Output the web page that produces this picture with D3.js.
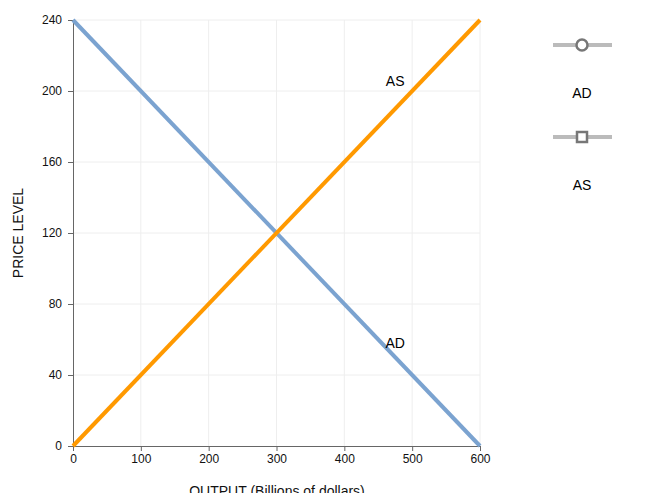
<!DOCTYPE html><html><head><script src="https://cdn.jsdelivr.net/npm/d3@7"></script>
<style>body{margin:0;background:#fff}text{font-family:Arial,"Liberation Sans",sans-serif}</style></head><body>
<svg id="c" width="648" height="493"></svg>
<script>
const xTicks=[0,100,200,300,400,500,600];
const yTicks=[0,40,80,120,160,200,240];
const adX=[0,600], adY=[240,0];
const asX=[0,600], asY=[0,240];
const svg=d3.select("#c");
const x=d3.scaleLinear().domain([0,600]).range([73,480]);
const y=d3.scaleLinear().domain([0,240]).range([446,20]);
const g=svg.append("g");
g.selectAll(".gx").data(xTicks.slice(1)).enter().append("line").attr("x1",d=>x(d)).attr("x2",d=>x(d)).attr("y1",20).attr("y2",446).attr("stroke","#eee");
g.selectAll(".gy").data(yTicks.slice(1)).enter().append("line").attr("y1",d=>y(d)).attr("y2",d=>y(d)).attr("x1",73).attr("x2",480).attr("stroke","#eee");
const xa=svg.append("g").attr("transform","translate(0,446)").call(d3.axisBottom(x).tickValues(xTicks).tickSize(5).tickSizeOuter(0));
const ya=svg.append("g").attr("transform","translate(73,0)").call(d3.axisLeft(y).tickValues(yTicks).tickSize(5).tickSizeOuter(0));
[xa,ya].forEach(a=>{a.selectAll("path,line").attr("stroke","#666");a.selectAll("text").attr("fill","#111").attr("font-size",12)});
ya.selectAll("text").attr("dx","-3");
const line=d3.line().x(d=>x(d[0])).y(d=>y(d[1]));
svg.append("path").attr("d",line(adX.map((v,i)=>[v,adY[i]]))).attr("stroke","#7ba3d0").attr("stroke-width",4).attr("fill","none");
svg.append("path").attr("d",line(asX.map((v,i)=>[v,asY[i]]))).attr("stroke","#ff9900").attr("stroke-width",4).attr("fill","none");
svg.append("text").attr("x",x(475)).attr("y",y(55)).attr("text-anchor","middle").attr("font-size",14).text("AD");
svg.append("text").attr("x",x(475)).attr("y",y(203)).attr("text-anchor","middle").attr("font-size",14).text("AS");
svg.append("text").attr("transform","translate(23,233) rotate(-90)").attr("text-anchor","middle").attr("font-size",14).attr("fill","#111").text("PRICE LEVEL");
svg.append("text").attr("x",277).attr("y",496).attr("text-anchor","middle").attr("font-size",14).attr("fill","#111").text("OUTPUT (Billions of dollars)");
const lg=svg.append("g");
[["AD",45,"circle"],["AS",137,"square"]].forEach(([n,yy,s])=>{
 lg.append("line").attr("x1",553).attr("x2",612).attr("y1",yy).attr("y2",yy).attr("stroke","#bbb").attr("stroke-width",4);
 if(s==="circle")lg.append("circle").attr("cx",582).attr("cy",yy).attr("r",5.5).attr("fill","#fff").attr("stroke","#777").attr("stroke-width",2.5);
 else lg.append("rect").attr("x",577).attr("y",yy-5).attr("width",10).attr("height",10).attr("fill","#fff").attr("stroke","#777").attr("stroke-width",2.5);
 lg.append("text").attr("x",582).attr("y",yy+53).attr("text-anchor","middle").attr("font-size",14).text(n);
});
</script></body></html>
